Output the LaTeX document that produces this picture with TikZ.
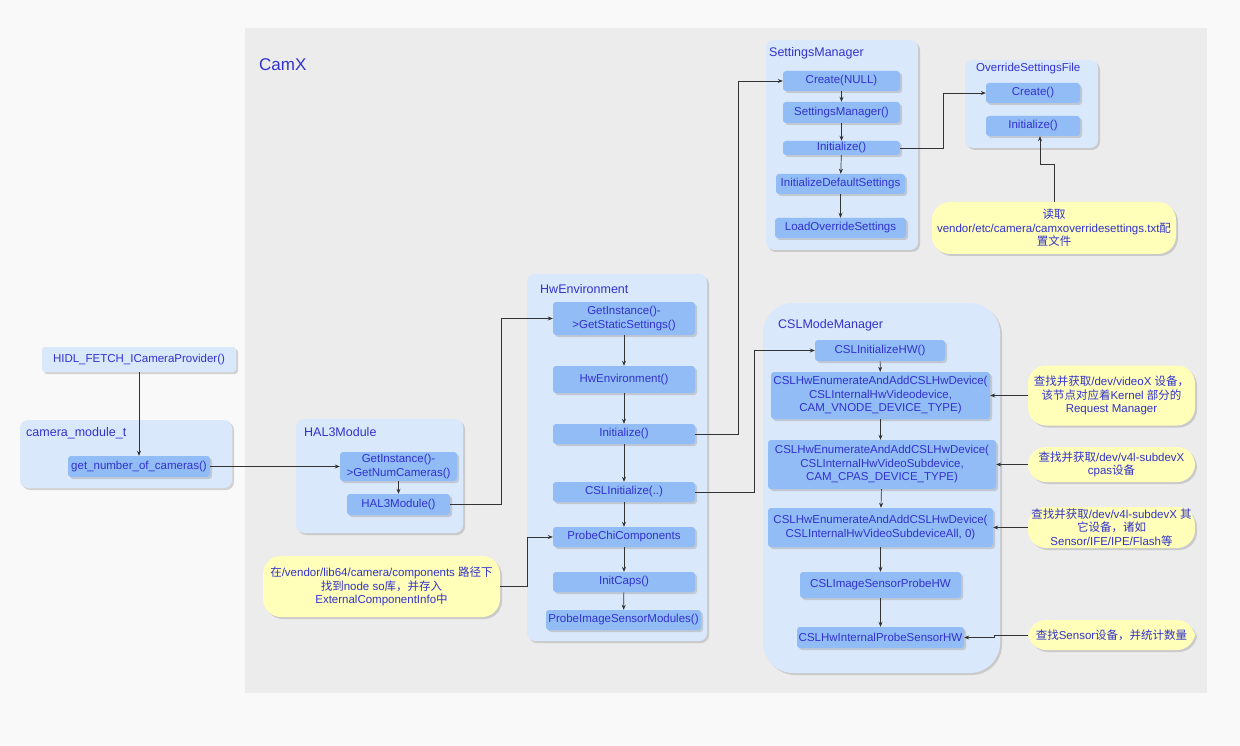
\documentclass[tikz,border=0pt]{standalone}
\usepackage{fontspec}
\setmainfont{Liberation Sans}
\newfontfamily\cjk{Noto Sans CJK SC}
\usetikzlibrary{arrows.meta,shadows}

\definecolor{pagebg}{RGB}{249,249,249}
\definecolor{camxgray}{RGB}{236,236,236}
\definecolor{grpblue}{RGB}{218,232,252}
\definecolor{fnblue}{RGB}{145,188,245}
\definecolor{noteyellow}{RGB}{255,255,186}
\definecolor{txtblue}{RGB}{50,50,205}

\tikzset{
  shd/.style={drop shadow={shadow xshift=2pt,shadow yshift=-2pt,fill=black!40,opacity=.4}},
  grp/.style={fill=grpblue,rounded corners=8pt,shd},
  box/.style 2 args={minimum width=#1pt,minimum height=#2pt},
  fn/.style={fill=fnblue,rounded corners=3pt,shd,text=txtblue,align=center,inner sep=1pt,
    font=\fontsize{11.5}{13.5}\selectfont},
  note/.style={fill=noteyellow,rounded corners=18pt,shd,text=txtblue,align=center,inner sep=1pt,
    font=\fontsize{11.5}{13.5}\selectfont},
  grplabel/.style={text=txtblue,anchor=base west,inner sep=0pt,font=\fontsize{12.5}{14}\selectfont},
  arr/.style={-{Stealth[length=5pt,width=4pt]},black!80,line width=0.7pt},
}

\begin{document}
\begin{tikzpicture}[x=1pt,y=-1pt]
\useasboundingbox (0,0) rectangle (1240,746);
% Fondo
\fill[pagebg] (0,0) rectangle (1240,746);
\fill[camxgray] (245,28) rectangle (1207,693);
\node[grplabel,font=\fontsize{17}{19}\selectfont] (camx) at (259,71) {CamX};

% Grupos
\fill[grp] (20,420) rectangle (232,488);   % camera_module_t
\fill[grp] (296,419) rectangle (463,533);  % HAL3Module
\fill[grp] (527,274) rectangle (707,641);  % HwEnvironment
\fill[grp] (766,40) rectangle (918,250);   % SettingsManager
\fill[grp] (965,60) rectangle (1098,148);  % OverrideSettingsFile
\fill[grp,rounded corners=30pt] (763,303) rectangle (1000,673); % CSLModeManager
\node[grplabel] (lcam) at (26,436) {camera\_module\_t};
\node[grplabel] (lhal) at (304,436) {HAL3Module};
\node[grplabel] (lhw) at (540,293) {HwEnvironment};
\node[grplabel] (lsm) at (769,57) {SettingsManager};
\node[grplabel,font=\fontsize{11.5}{13}\selectfont] (lovr) at (976,72) {OverrideSettingsFile};
\node[grplabel] (lcsl) at (778,328) {CSLModeManager};

% camera provider / HAL3
\node[fn,fill=grpblue,box={194}{25}] (hidl) at (139,359.5) {HIDL\_FETCH\_ICameraProvider()};
\node[fn,box={142}{21}] (gnc) at (139,466.5) {get\_number\_of\_cameras()};
\node[fn,box={117}{29}] (gnum) at (398.5,466.5) {GetInstance()-\\>GetNumCameras()};
\node[fn,box={103}{21}] (hal3m) at (398.5,504.5) {HAL3Module()};

% HwEnvironment
\node[fn,box={142}{33}] (gss) at (624,318.5) {GetInstance()-\\>GetStaticSettings()};
\node[fn,box={142}{27}] (hwe) at (624,379.5) {HwEnvironment()};
\node[fn,box={142}{20}] (hwinit) at (624,434) {Initialize()};
\node[fn,box={142}{20}] (cslinit) at (624,492) {CSLInitialize(..)};
\node[fn,box={142}{20}] (probechi) at (624,537) {ProbeChiComponents};
\node[fn,box={142}{20}] (initcaps) at (624,582) {InitCaps()};
\node[fn,box={155}{20}] (probeimg) at (623.5,620) {ProbeImageSensorModules()};

% SettingsManager
\node[fn,box={117}{20}] (create) at (841.5,81) {Create(NULL)};
\node[fn,box={117}{21}] (smctor) at (841.5,112.5) {SettingsManager()};
\node[fn,box={117}{14}] (sminit) at (841.5,148) {Initialize()};
\node[fn,box={129}{20}] (initdef) at (840.5,184) {InitializeDefaultSettings};
\node[fn,box={131}{20}] (loadovr) at (840.5,228) {LoadOverrideSettings};

% OverrideSettingsFile
\node[fn,box={94}{20}] (ocreate) at (1033,93) {Create()};
\node[fn,box={94}{20}] (oinit) at (1033,126) {Initialize()};

% CSLModeManager
\node[fn,box={130}{21}] (cslhw) at (880,350.5) {CSLInitializeHW()};
\node[fn,box={219}{47}] (enum1) at (880.5,395.5) {CSLHwEnumerateAndAddCSLHwDevice(\\CSLInternalHwVideodevice,\\CAM\_VNODE\_DEVICE\_TYPE)};
\node[fn,box={228}{49}] (enum2) at (882,464.5) {CSLHwEnumerateAndAddCSLHwDevice(\\CSLInternalHwVideoSubdevice,\\CAM\_CPAS\_DEVICE\_TYPE)};
\node[fn,box={225}{39}] (enum3) at (880.5,527.5) {CSLHwEnumerateAndAddCSLHwDevice(\\CSLInternalHwVideoSubdeviceAll, 0)};
\node[fn,box={161}{26}] (imgprobe) at (880.5,585) {CSLImageSensorProbeHW};
\node[fn,box={167}{21}] (intprobe) at (880.5,637.5) {CSLHwInternalProbeSensorHW};

% Notas
\node[note,box={237}{61}] (note0) at (381.5,586.5) {{\cjk 在}/vendor/lib64/camera/components {\cjk 路径下}\\{\cjk 找到}node so{\cjk 库，并存入}\\ExternalComponentInfo{\cjk 中}};
\node[note,box={244}{52}] (note1) at (1054,228) {{\cjk 读取}\\vendor/etc/camera/camxoverridesettings.txt{\cjk 配}\\{\cjk 置文件}};
\node[note,box={167}{60}] (noteA) at (1111.5,395.5) {{\cjk 查找并获取}/dev/videoX {\cjk 设备，}\\{\cjk 该节点对应着}Kernel {\cjk 部分的}\\Request Manager};
\node[note,box={167}{35}] (noteB) at (1111.5,464.5) {{\cjk 查找并获取}/dev/v4l-subdevX\\cpas{\cjk 设备}};
\node[note,box={167}{41}] (noteC) at (1111.5,527.5) {{\cjk 查找并获取}/dev/v4l-subdevX {\cjk 其}\\{\cjk 它设备，诸如}\\Sensor/IFE/IPE/Flash{\cjk 等}};
\node[note,box={167}{30}] (noteD) at (1111.5,635) {{\cjk 查找}Sensor{\cjk 设备，并统计数量}};

% Flechas
\draw[arr] (hidl) -- (gnc);
\draw[arr] (gnc) -- (gnum);
\draw[arr] (gnum) -- (hal3m);
\draw[arr] (hal3m.east) -- ++(51,0) |- (gss.west);
\draw[arr] (gss) -- (hwe);
\draw[arr] (hwe) -- (hwinit);
\draw[arr] (hwinit) -- (cslinit);
\draw[arr] (cslinit) -- (probechi);
\draw[arr] (probechi) -- (initcaps);
\draw[arr] (initcaps) -- (probeimg);
\draw[arr] (note0.east) -- ++(27,0) |- (probechi.west);
\draw[arr] (hwinit.east) -- ++(43,0) |- (create.west);
\draw[arr] (cslinit.east) -- ++(59,0) |- (cslhw.west);
\draw[arr] (create) -- (smctor);
\draw[arr] (smctor) -- (sminit);
\draw[arr] (sminit) -- (initdef);
\draw[arr] (initdef) -- (loadovr);
\draw[arr] (sminit.east) -- ++(43,0) |- (ocreate.west);
\draw[arr] (note1.north) -- ++(0,-37) -| ([xshift=7pt]oinit.south);
\draw[arr] (cslhw) -- (enum1);
\draw[arr] (enum1.south) -- (enum2.north -| enum1.south);
\draw[arr] (enum2) -- (enum3);
\draw[arr] (enum3) -- (imgprobe);
\draw[arr] (imgprobe) -- (intprobe);
\draw[arr] (noteA.west) -- (noteA.west -| enum1.east);
\draw[arr] (noteB.west) -- (noteB.west -| enum2.east);
\draw[arr] (noteC.west) -- (noteC.west -| enum3.east);
\draw[arr] (noteD.west) -- ++(-33,0) |- (intprobe.east);
\end{tikzpicture}
\end{document}
